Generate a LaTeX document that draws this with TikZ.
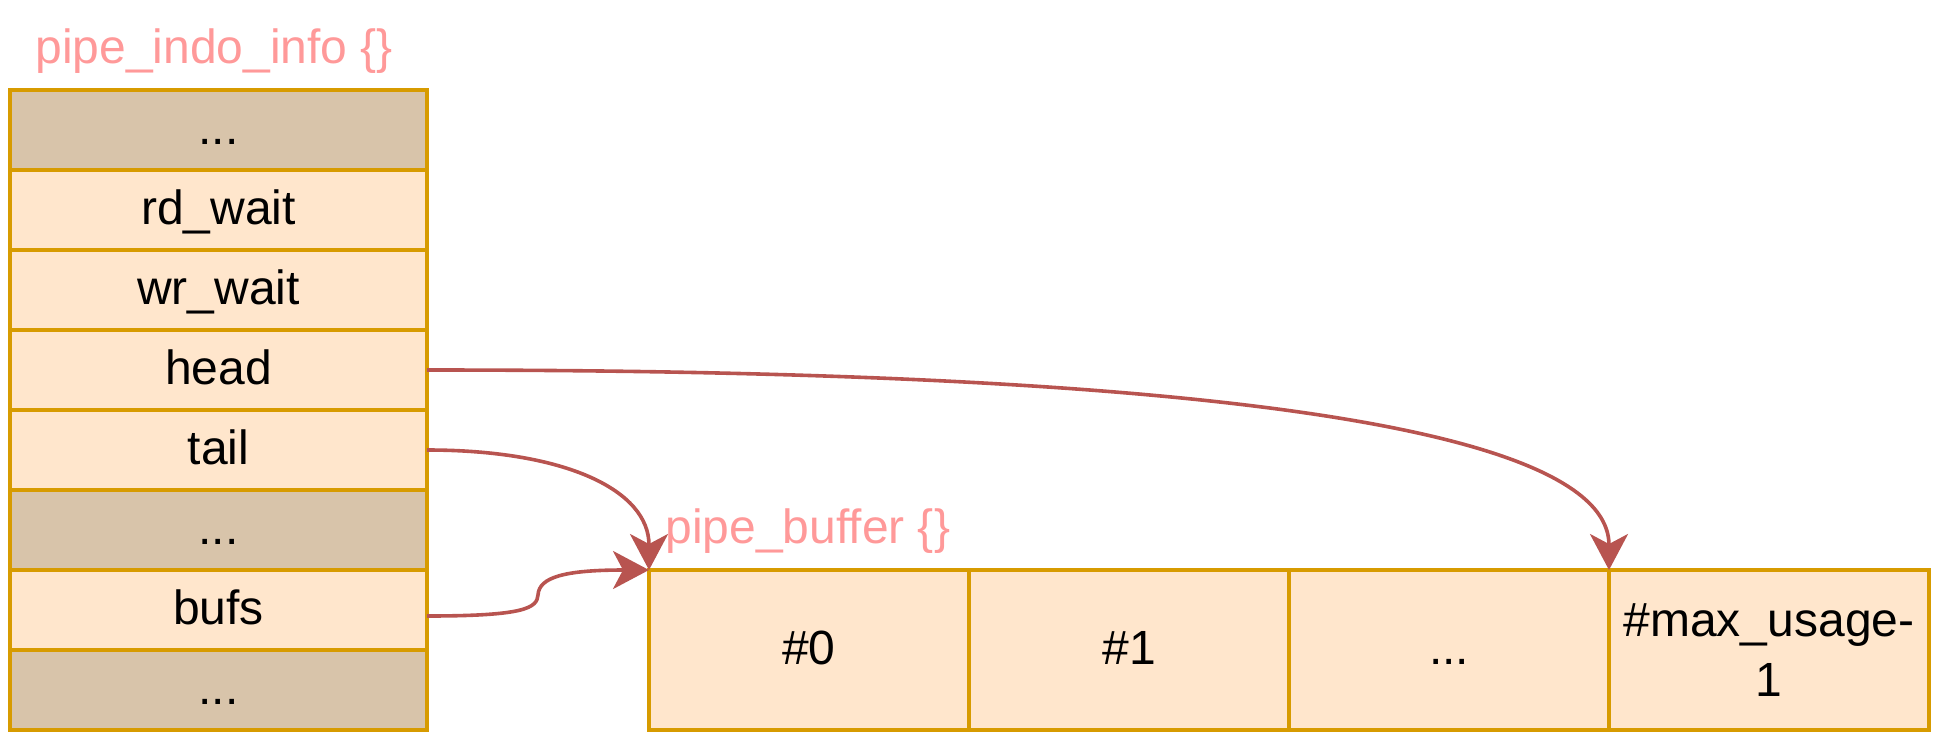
\documentclass[tikz,border=0pt]{standalone}
\usepackage{fontspec}
\setmainfont{Liberation Sans}
\usetikzlibrary{arrows.meta}
\definecolor{boxfill}{HTML}{FFE6CC}
\definecolor{boxline}{HTML}{D79B00}
\definecolor{grayfill}{RGB}{216,196,170}
\definecolor{lblcol}{HTML}{FF9999}
\definecolor{arrcol}{HTML}{B85450}
\begin{document}
\begin{tikzpicture}[x=0.5pt,y=-0.5pt,
  basefont/.style={font=\fontsize{24}{30}\selectfont},
  field/.style={basefont, draw=boxline, fill=boxfill, line width=2pt, minimum width=208.5pt, minimum height=40pt, inner sep=0pt, outer sep=0pt, text height=17pt, text depth=3pt},
  grayfield/.style={field, fill=grayfill},
  cell/.style={basefont, draw=boxline, fill=boxfill, line width=2pt, minimum width=160pt, minimum height=80pt, inner sep=0pt, outer sep=0pt, align=center},
  celltext/.style={cell, text height=17pt, text depth=3pt},
  title/.style={basefont, text=lblcol, inner sep=0pt, anchor=base west},
  link/.style={draw=arrcol, line width=1.8pt, -{Stealth[length=18pt, width=19pt, inset=5pt]}}
]
\useasboundingbox (0,0) rectangle (1940,740);
% left struct
\node[grayfield] (r1) at (218.5,130) {...};
\node[field] (rd) at (218.5,210) {rd\_wait};
\node[field] (wr) at (218.5,290) {wr\_wait};
\node[field] (head) at (218.5,370) {head};
\node[field] (tail) at (218.5,450) {tail};
\node[grayfield] (r6) at (218.5,530) {...};
\node[field] (bufs) at (218.5,610) {bufs};
\node[grayfield] (r8) at (218.5,690) {...};
\node[title] (t1) at (35,63) {pipe\_indo\_info \{\}};
% buffers
\node[celltext] (c0) at (809,650) {\#0};
\node[celltext] (c1) at (1129,650) {\#1};
\node[celltext] (c2) at (1449,650) {...};
\node[cell] (c3) at (1769,650) {\#max\_usage-\\1};
\node[title] (t2) at (665,543) {pipe\_buffer \{\}};
% connectors
\coordinate (bmid) at (538,595);
\draw[link] (head.east) .. controls (900,370) and (1609,390) .. (c3.north west);
\draw[link] (tail.east) .. controls (565,450) and (649,490) .. (c0.north west);
\draw[link] ([yshift=-3pt]bufs.east) .. controls (525,616) and (537,608) .. (bmid) .. controls (539,577) and (565,570) .. (c0.north west);
\end{tikzpicture}
\end{document}
